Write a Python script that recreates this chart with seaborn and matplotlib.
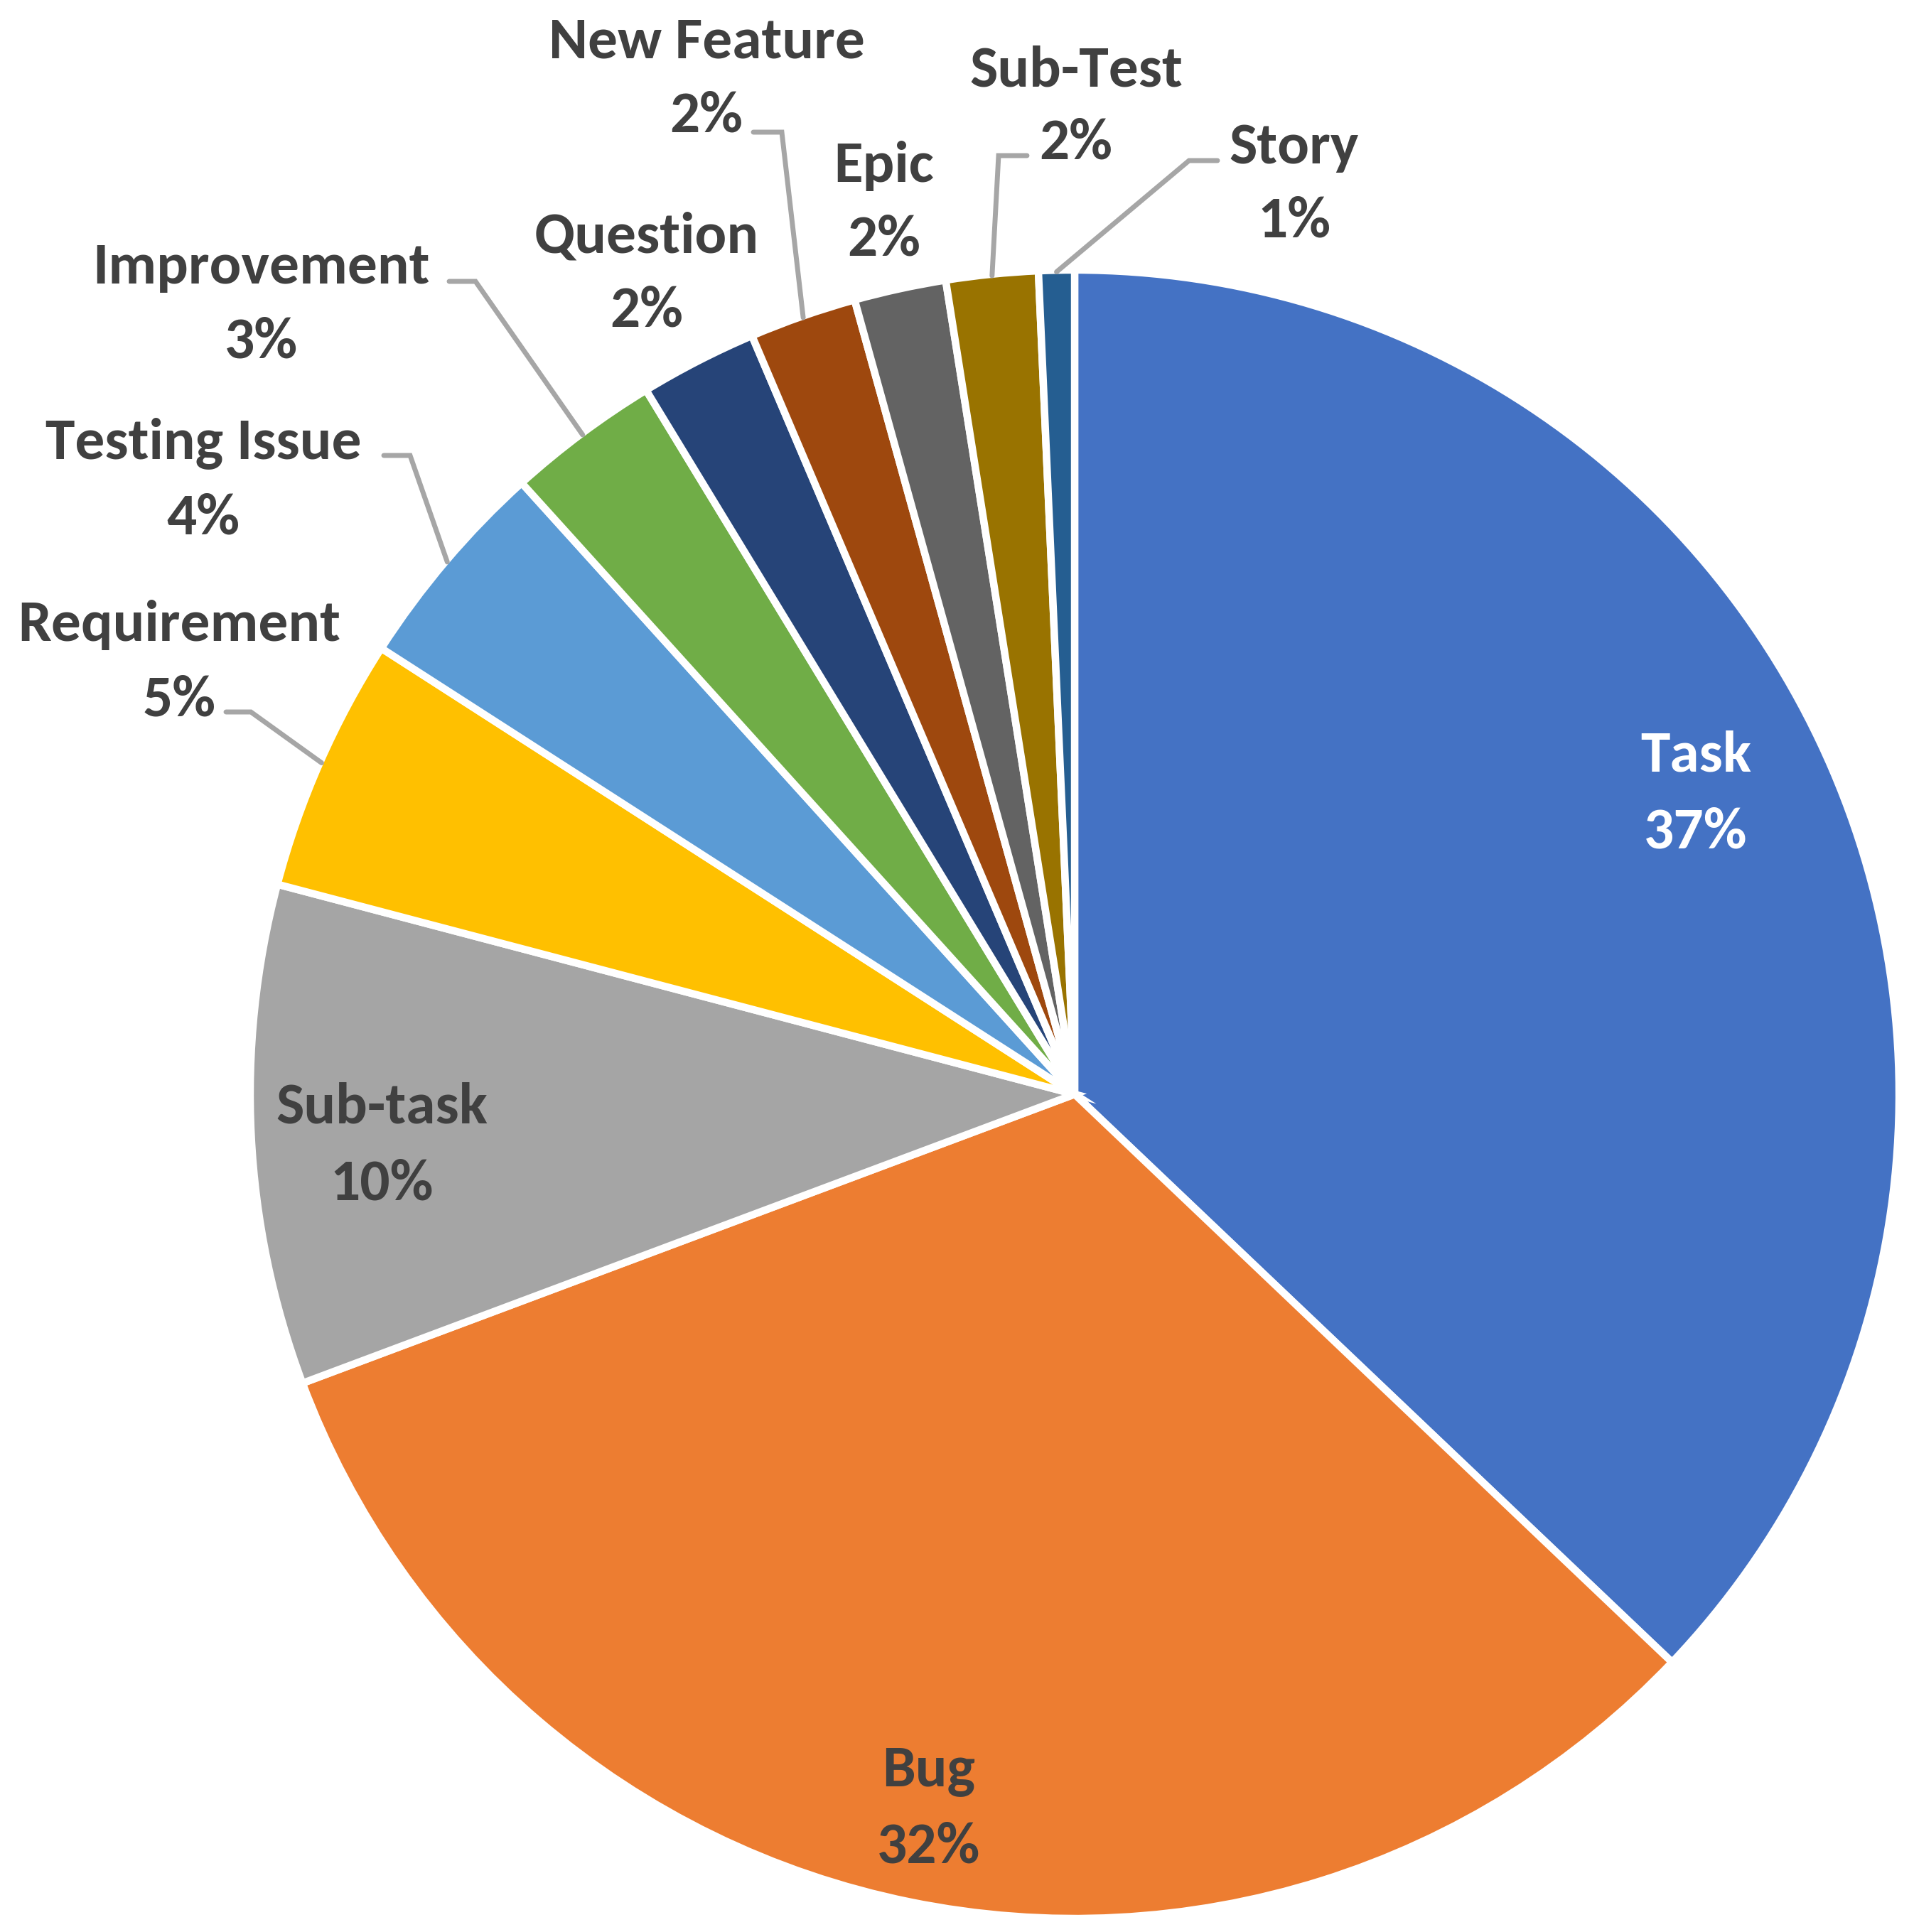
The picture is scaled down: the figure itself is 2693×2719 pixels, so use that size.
import matplotlib
matplotlib.use("Agg")
import matplotlib.pyplot as plt
import seaborn as sns
import numpy as np
from matplotlib import font_manager

# issue type distribution (share of all issues, %)
issue_types = ["Task", "Bug", "Sub-task", "Requirement", "Testing Issue",
               "Improvement", "Question", "New Feature", "Epic", "Sub-Test", "Story"]
shares = [37.1, 32.2, 9.8, 5.0, 4.2, 3.0, 2.3, 2.1, 1.8, 1.8, 0.7]
colors = ["#4472C4", "#ED7D31", "#A5A5A5", "#FFC000", "#5B9BD5", "#70AD47",
          "#264478", "#9E480E", "#636363", "#997300", "#255E91"]

# layout, in output pixels: label x, name baseline, pct baseline
W, H = 2693, 2719
CX, CY, R = 1512, 1540, 1160
label_pos = {
    "Task": (2386, 1085, 1193),
    "Bug": (1307, 2513, 2622),
    "Sub-task": (537, 1580, 1688),
    "Requirement": (252, 902, 1007),
    "Testing Issue": (286, 645, 751),
    "Improvement": (368, 399, 503),
    "Question": (910, 355, 459),
    "New Feature": (994, 81, 186),
    "Epic": (1244, 256, 359),
    "Sub-Test": (1514, 121, 224),
    "Story": (1821, 230, 334),
}
leaders = {
    "New Feature": [(1060, 186), (1100, 186)],
    "Improvement": [(632, 396), (669, 396)],
    "Testing Issue": [(540, 641), (577, 641)],
    "Requirement": [(318, 1002), (353, 1002)],
    "Sub-Test": [(1445, 219), (1405, 219)],
    "Story": [(1713, 226), (1673, 226)],
}


def to_data(x, y):
    return (x - CX) / R, (CY - y) / R


sns.set_theme(style="white")
names = {f.name for f in font_manager.fontManager.ttflist}
font = "Carlito" if "Carlito" in names else "Lato"
plt.rcParams["font.family"] = [font, "DejaVu Sans"]

fig = plt.figure(figsize=(W / 100, H / 100), dpi=100)
ax = fig.add_axes([0, 0, 1, 1])

wedges, _ = ax.pie(shares, colors=sns.color_palette(colors), startangle=90,
                   counterclock=False, radius=1,
                   wedgeprops=dict(edgecolor="white", linewidth=7.5))

total = sum(shares)
fs = 60
for name, val, w in zip(issue_types, shares, wedges):
    x, yn, yp = label_pos[name]
    col = "white" if name == "Task" else "#404040"
    tx, ty = to_data(x, yn)
    ax.text(tx, ty, name, ha="center", va="baseline", fontsize=fs,
            fontweight="heavy", color=col)
    tx, ty = to_data(x, yp)
    ax.text(tx, ty, f"{round(val / total * 100)}%", ha="center", va="baseline",
            fontsize=fs, fontweight="heavy", color=col)

    if name in leaders:
        mid = np.deg2rad((w.theta1 + w.theta2) / 2)
        pts = [to_data(*p) for p in leaders[name]]
        pts.append((np.cos(mid) * 0.998, np.sin(mid) * 0.998))
        xs, ys = zip(*pts)
        ax.plot(xs, ys, color="#A6A6A6", lw=5, solid_joinstyle="miter")

ax.set_xlim(-CX / R, (W - CX) / R)
ax.set_ylim(-(H - CY) / R, CY / R)
ax.set_aspect("auto")
ax.axis("off")

fig.savefig("out.png", dpi=100, facecolor="white")
